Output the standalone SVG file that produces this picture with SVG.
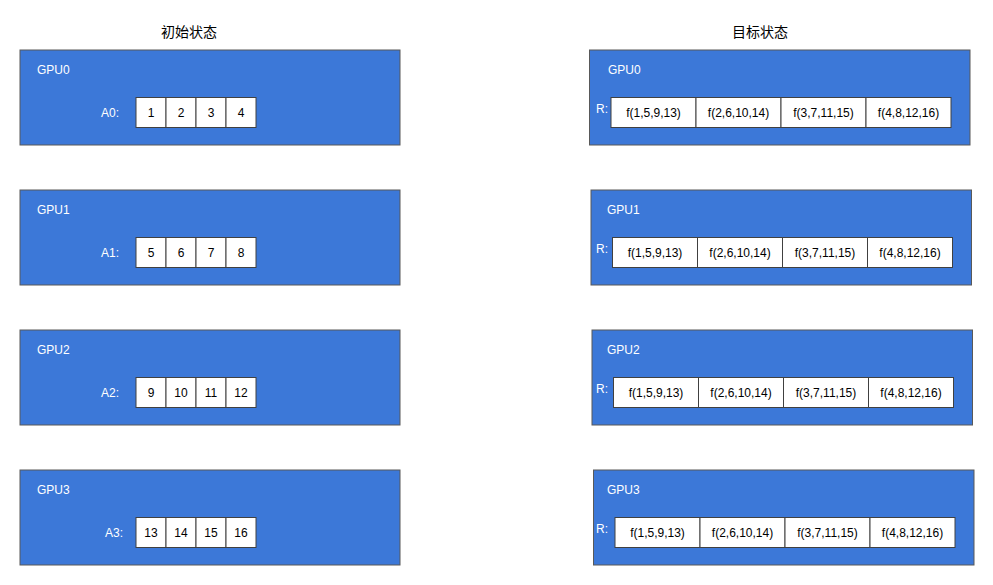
<svg xmlns="http://www.w3.org/2000/svg" width="993" height="585" viewBox="0 0 993 585">
<style>
.box{fill:#3c78d8;stroke:#595959;stroke-width:1}
.cell{fill:#ffffff;stroke:#404040;stroke-width:1}
.w{font-family:"Liberation Sans",Arial,sans-serif;font-size:12px;fill:#ffffff}
.c{font-family:"Liberation Sans",Arial,sans-serif;font-size:12px;fill:#000000;text-anchor:middle}
.t{font-family:"Liberation Sans","Noto Sans CJK SC",sans-serif;font-size:14px;fill:#000000;text-anchor:middle}
</style>
<rect width="993" height="585" fill="#ffffff"/>
<text class="t" x="189" y="37">初始状态</text>
<text class="t" x="760" y="37">目标状态</text>

<g id="init-gpu0" transform="translate(20,50)">
<rect class="box" x="0" y="0" width="380" height="95"/>
<text class="w" x="17" y="24">GPU0</text>
<text class="w" x="81" y="67">A0:</text>
<rect class="cell" x="116" y="47.5" width="30" height="30"/><text class="c" x="131" y="67">1</text>
<rect class="cell" x="146" y="47.5" width="30" height="30"/><text class="c" x="161" y="67">2</text>
<rect class="cell" x="176" y="47.5" width="30" height="30"/><text class="c" x="191" y="67">3</text>
<rect class="cell" x="206" y="47.5" width="30" height="30"/><text class="c" x="221" y="67">4</text>
</g>
<g id="init-gpu1" transform="translate(20,190)">
<rect class="box" x="0" y="0" width="380" height="95"/>
<text class="w" x="17" y="24">GPU1</text>
<text class="w" x="81" y="67">A1:</text>
<rect class="cell" x="116" y="47.5" width="30" height="30"/><text class="c" x="131" y="67">5</text>
<rect class="cell" x="146" y="47.5" width="30" height="30"/><text class="c" x="161" y="67">6</text>
<rect class="cell" x="176" y="47.5" width="30" height="30"/><text class="c" x="191" y="67">7</text>
<rect class="cell" x="206" y="47.5" width="30" height="30"/><text class="c" x="221" y="67">8</text>
</g>
<g id="init-gpu2" transform="translate(20,330)">
<rect class="box" x="0" y="0" width="380" height="95"/>
<text class="w" x="17" y="24">GPU2</text>
<text class="w" x="81" y="67">A2:</text>
<rect class="cell" x="116" y="47.5" width="30" height="30"/><text class="c" x="131" y="67">9</text>
<rect class="cell" x="146" y="47.5" width="30" height="30"/><text class="c" x="161" y="67">10</text>
<rect class="cell" x="176" y="47.5" width="30" height="30"/><text class="c" x="191" y="67">11</text>
<rect class="cell" x="206" y="47.5" width="30" height="30"/><text class="c" x="221" y="67">12</text>
</g>
<g id="init-gpu3" transform="translate(20,470)">
<rect class="box" x="0" y="0" width="380" height="95"/>
<text class="w" x="17" y="24">GPU3</text>
<text class="w" x="85" y="67">A3:</text>
<rect class="cell" x="116" y="47.5" width="30" height="30"/><text class="c" x="131" y="67">13</text>
<rect class="cell" x="146" y="47.5" width="30" height="30"/><text class="c" x="161" y="67">14</text>
<rect class="cell" x="176" y="47.5" width="30" height="30"/><text class="c" x="191" y="67">15</text>
<rect class="cell" x="206" y="47.5" width="30" height="30"/><text class="c" x="221" y="67">16</text>
</g>

<g id="target-gpu0" transform="translate(589.5,50)">
<rect class="box" x="0" y="0" width="380.5" height="95"/>
<text class="w" x="18.5" y="24">GPU0</text>
<text class="w" x="6.5" y="62.5">R:</text>
<rect class="cell" x="21.5" y="47.5" width="85" height="30"/><text class="c" x="64" y="67">f(1,5,9,13)</text>
<rect class="cell" x="106.5" y="47.5" width="85" height="30"/><text class="c" x="149" y="67">f(2,6,10,14)</text>
<rect class="cell" x="191.5" y="47.5" width="85" height="30"/><text class="c" x="234" y="67">f(3,7,11,15)</text>
<rect class="cell" x="276.5" y="47.5" width="85" height="30"/><text class="c" x="319" y="67">f(4,8,12,16)</text>
</g>
<g id="target-gpu1" transform="translate(591,190)">
<rect class="box" x="0" y="0" width="380.5" height="95"/>
<text class="w" x="16" y="24">GPU1</text>
<text class="w" x="5" y="62.5">R:</text>
<rect class="cell" x="21.5" y="47.5" width="85" height="30"/><text class="c" x="64" y="67">f(1,5,9,13)</text>
<rect class="cell" x="106.5" y="47.5" width="85" height="30"/><text class="c" x="149" y="67">f(2,6,10,14)</text>
<rect class="cell" x="191.5" y="47.5" width="85" height="30"/><text class="c" x="234" y="67">f(3,7,11,15)</text>
<rect class="cell" x="276.5" y="47.5" width="85" height="30"/><text class="c" x="319" y="67">f(4,8,12,16)</text>
</g>
<g id="target-gpu2" transform="translate(592,330)">
<rect class="box" x="0" y="0" width="380.5" height="95"/>
<text class="w" x="15" y="24">GPU2</text>
<text class="w" x="4" y="62.5">R:</text>
<rect class="cell" x="21.5" y="47.5" width="85" height="30"/><text class="c" x="64" y="67">f(1,5,9,13)</text>
<rect class="cell" x="106.5" y="47.5" width="85" height="30"/><text class="c" x="149" y="67">f(2,6,10,14)</text>
<rect class="cell" x="191.5" y="47.5" width="85" height="30"/><text class="c" x="234" y="67">f(3,7,11,15)</text>
<rect class="cell" x="276.5" y="47.5" width="85" height="30"/><text class="c" x="319" y="67">f(4,8,12,16)</text>
</g>
<g id="target-gpu3" transform="translate(593.5,470)">
<rect class="box" x="0" y="0" width="380.5" height="95"/>
<text class="w" x="13.5" y="24">GPU3</text>
<text class="w" x="2.5" y="62.5">R:</text>
<rect class="cell" x="21.5" y="47.5" width="85" height="30"/><text class="c" x="64" y="67">f(1,5,9,13)</text>
<rect class="cell" x="106.5" y="47.5" width="85" height="30"/><text class="c" x="149" y="67">f(2,6,10,14)</text>
<rect class="cell" x="191.5" y="47.5" width="85" height="30"/><text class="c" x="234" y="67">f(3,7,11,15)</text>
<rect class="cell" x="276.5" y="47.5" width="85" height="30"/><text class="c" x="319" y="67">f(4,8,12,16)</text>
</g>
<g id="connectors"></g>
</svg>
